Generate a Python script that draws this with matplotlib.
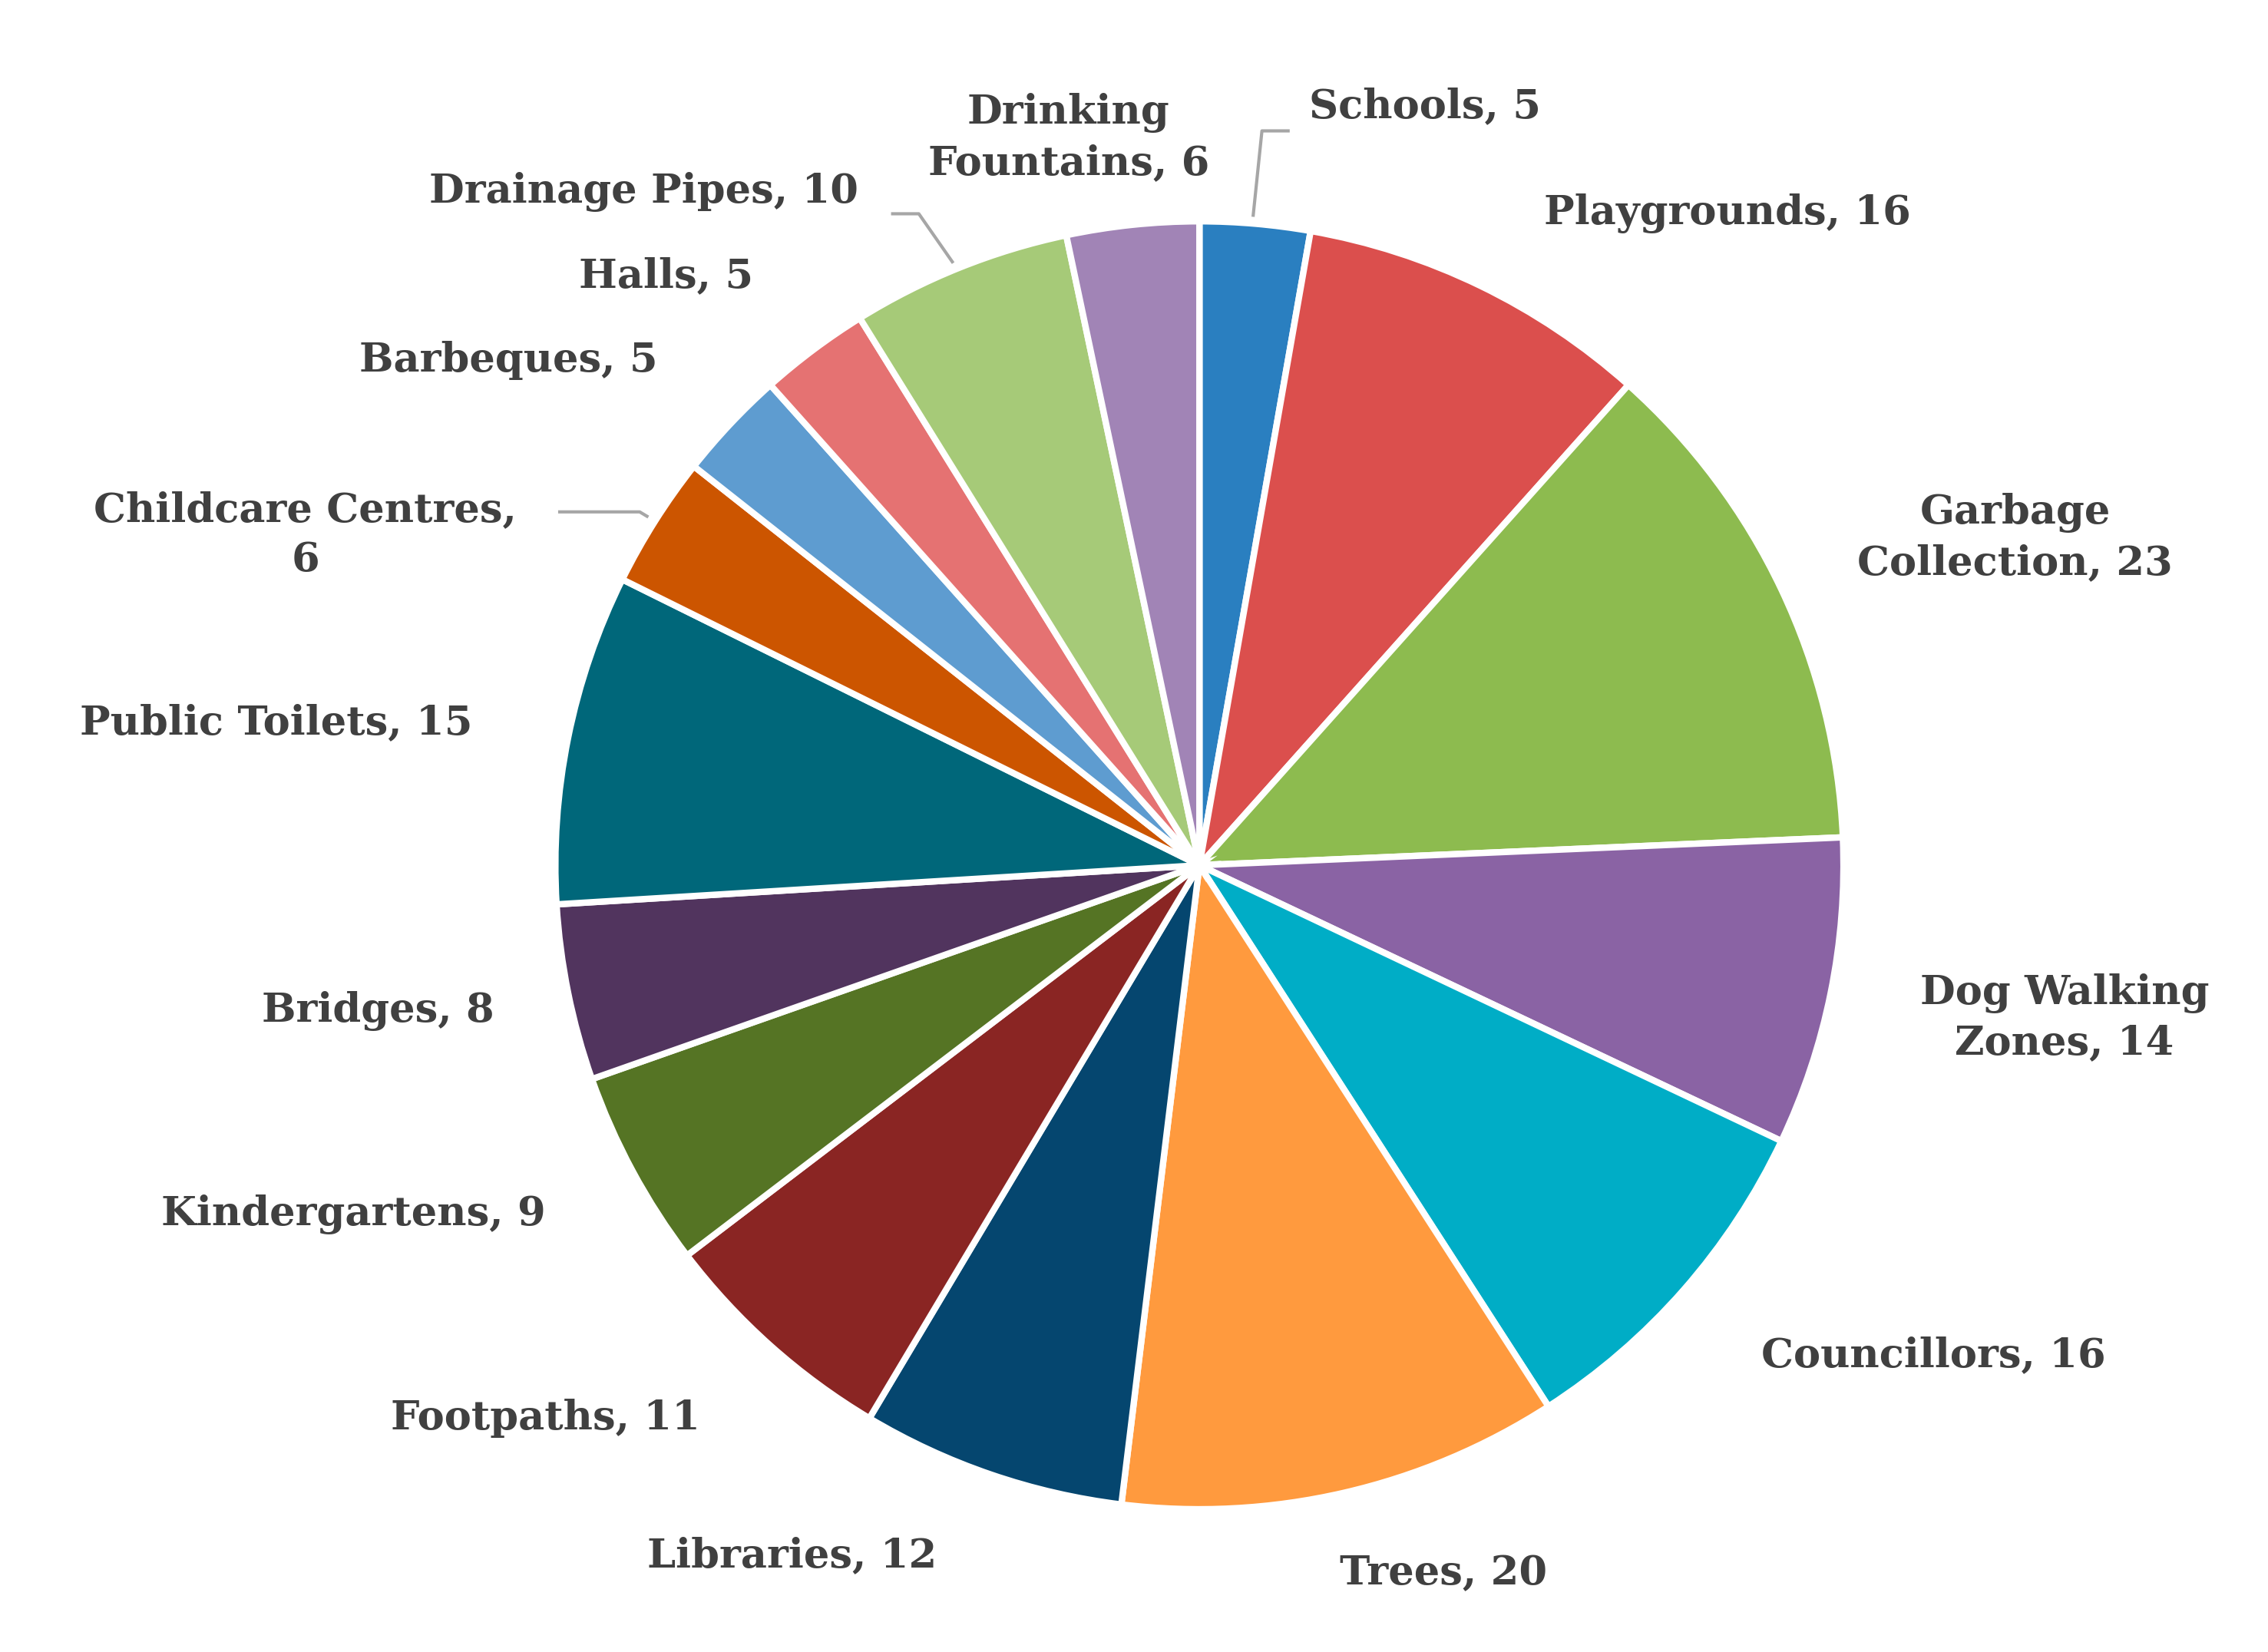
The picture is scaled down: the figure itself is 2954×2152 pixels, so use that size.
import matplotlib
matplotlib.use("Agg")
import matplotlib.pyplot as plt

categories = ["Schools", "Playgrounds", "Garbage\nCollection", "Dog Walking\nZones", "Councillors",
              "Trees", "Libraries", "Footpaths", "Kindergartens", "Bridges", "Public Toilets",
              "Childcare Centres,\n", "Barbeques", "Halls", "Drainage Pipes", "Drinking\nFountains"]
values = [5, 16, 23, 14, 16, 20, 12, 11, 9, 8, 15, 6, 5, 5, 10, 6]
colors = ["#2A7FC0", "#DB4F4D", "#8DBB4F", "#8A63A4", "#00ADC6", "#FF9A3E", "#05466F", "#8A2523",
          "#557424", "#51345E", "#00677A", "#CC5500", "#5E9CD0", "#E57272", "#A6CA78", "#A184B6"]

# label centre positions in display-image pixels (1560 x 1136 reference scale)
label_pos = [(980, 73), (1188, 147), (1386, 370), (1420, 700), (1330, 932), (993, 1082),
             (545, 1070), (375, 975), (243, 835), (260, 695), (190, 497), (210, 368),
             (350, 248), (458, 190), (443, 132), (735, 95)]

W, H = 1560, 1136
fig = plt.figure(figsize=(14.77, 10.76), dpi=200)
cx, cy, r = 825 / W, 1 - 595 / H, 443 / H
ax = fig.add_axes([cx - r * H / W, cy - r, 2 * r * H / W, 2 * r])
ax.pie(values, colors=colors, startangle=90, counterclock=False,
       wedgeprops=dict(edgecolor="white", linewidth=3))
ax.set_xlim(-1, 1)
ax.set_ylim(-1, 1)
ax.set_aspect("equal")

tc = "#404040"
for cat, v, (x, y) in zip(categories, values, label_pos):
    if cat.endswith(",\n"):
        txt = cat + str(v)
    else:
        txt = f"{cat}, {v}"
    fig.text(x / W, 1 - y / H, txt, ha="center", va="center", fontsize=19,
             family="DejaVu Serif", fontweight="bold", color=tc, linespacing=1.35)

def leader(pts):
    xs = [p[0] / W for p in pts]
    ys = [1 - p[1] / H for p in pts]
    fig.add_artist(plt.Line2D(xs, ys, color="#A6A6A6", lw=1.5))

leader([(862, 148), (868, 90), (886, 90)])
leader([(445, 355), (440, 352), (385, 352)])
leader([(655, 180), (632, 147), (614, 147)])

fig.savefig("out.png", dpi=200, facecolor="white")
